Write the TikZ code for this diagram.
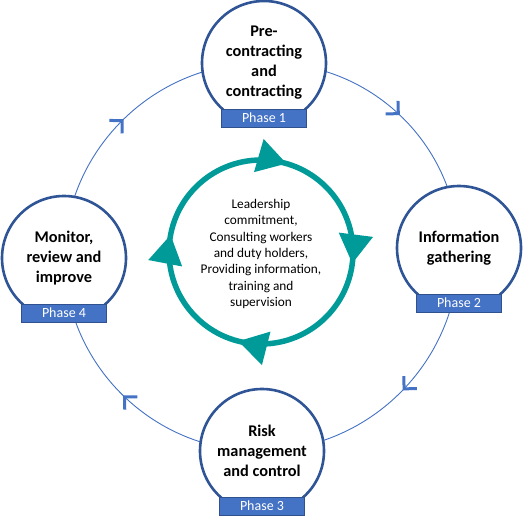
\documentclass[tikz,border=0pt]{standalone}
\usepackage{fontspec}
\setmainfont{Carlito}
\usetikzlibrary{arrows.meta,decorations.markings,backgrounds}
\definecolor{ringblue}{RGB}{47,85,151}
\definecolor{boxblue}{RGB}{68,114,196}
\definecolor{boxedge}{RGB}{47,82,143}
\definecolor{cyclet}{RGB}{0,155,152}
\tikzset{
  phasecircle/.style={circle, draw=ringblue, line width=2.6pt, fill=white, minimum size=124pt, inner sep=0pt, align=center, font=\bfseries\fontsize{16.3}{20}\selectfont},
  phasebox/.style={rectangle, draw=boxedge, line width=0.8pt, fill=boxblue, minimum width=85pt, minimum height=18pt, inner sep=0pt, text=white, font=\fontsize{14}{16}\selectfont},
  bigcycle/.style={draw=boxblue, line width=0.9pt, postaction={decorate}, decoration={markings, mark=at position 0.5 with {\arrow[boxblue]{Straight Barb[length=9pt,width=18pt,line width=3pt]}}}},
  tealring/.style={draw=cyclet, line width=5.5pt, postaction={decorate}, decoration={markings,
     mark=at position 0.045 with {\arrow[cyclet]{Triangle[length=29pt,width=33pt]}},
     mark=at position 0.27 with {\arrow[cyclet]{Triangle[length=29pt,width=33pt]}},
     mark=at position 0.54 with {\arrow[cyclet]{Triangle[length=29pt,width=33pt]}},
     mark=at position 0.78 with {\arrow[cyclet]{Triangle[length=29pt,width=33pt]}}}}
}
\begin{document}
\begin{tikzpicture}[x=1pt,y=1pt]
\useasboundingbox (0,0) rectangle (524,523);
% inner teal cycle
\coordinate (tc) at (261,271);
\path[tealring] (tc) ++(90:92) arc[start angle=90, end angle=-270, radius=92];
\node[align=center, font=\fontsize{13.3}{16.4}\selectfont] (core) at (261,269) {Leadership\\commitment,\\Consulting workers\\and duty holders,\\Providing information,\\training and\\supervision};
\node[phasecircle] (p1) at (264,460) {Pre-\\contracting\\and\\contracting};
\node[phasecircle] (p2) at (459,275) {Information\\gathering};
\node[phasecircle] (p3) at (262,72) {Risk\\management\\and control};
\node[phasecircle] (p4) at (64,265) {Monitor,\\review and\\improve};
\begin{scope}[on background layer]
\path[bigcycle] (p1.center) to[bend left=45] (p2.center);
\path[bigcycle] (p2.center) to[bend left=45] (p3.center);
\path[bigcycle] (p3.center) to[bend left=45] (p4.center);
\path[bigcycle] (p4.center) to[bend left=45] (p1.center);
\end{scope}
\node[phasebox] (b1) at ([yshift=-55pt]p1.center) {Phase 1};
\node[phasebox] (b2) at ([yshift=-55pt]p2.center) {Phase 2};
\node[phasebox] (b3) at ([yshift=-55pt]p3.center) {Phase 3};
\node[phasebox] (b4) at ([yshift=-55pt]p4.center) {Phase 4};
\end{tikzpicture}
\end{document}
